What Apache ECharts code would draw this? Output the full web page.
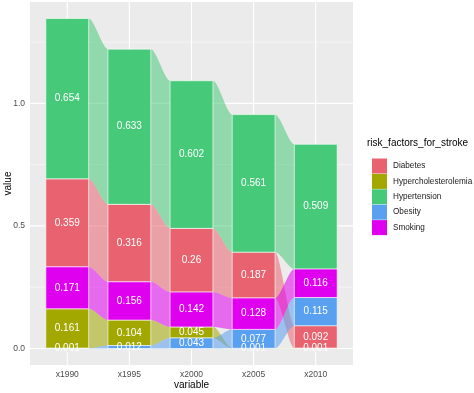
<!DOCTYPE html>
<html>
<head>
<meta charset="utf-8">
<script src="https://cdn.jsdelivr.net/npm/echarts@6/dist/echarts.min.js"></script>
<style>
html,body{margin:0;padding:0;background:#fff;}
#chart{width:474px;height:393px;}
</style>
</head>
<body>
<div id="chart"></div>
<script>
// ---- data ----
const categories = ['x1990', 'x1995', 'x2000', 'x2005', 'x2010'];
const factors = ['Diabetes', 'Hypercholesterolemia', 'Hypertension', 'Obesity', 'Smoking'];
const diabetes = [0.359, 0.316, 0.26, 0.187, 0.092];
const hypercholesterolemia = [0.161, 0.104, 0.045, 0.001, 0.001];
const hypertension = [0.654, 0.633, 0.602, 0.561, 0.509];
const obesity = [0.001, 0.012, 0.043, 0.077, 0.115];
const smoking = [0.171, 0.156, 0.142, 0.128, 0.116];
const valueTicks = [0, 0.5, 1.0];
const valueMinorTicks = [0.25, 0.75, 1.25];
const legendTitle = 'risk_factors_for_stroke';

// ---- styling ----
const colors = ['#E8636F', '#A2A800', '#47C97A', '#5AA0F0', '#E000F0'];
const FONT = '"Liberation Sans", Arial, sans-serif';
const HW = 0.345;

const seriesValues = [diabetes, hypercholesterolemia, hypertension, obesity, smoking];

// stacking: smallest at bottom
const stacks = categories.map((c, i) => {
  const order = factors.map((f, k) => k).sort((a, b) => seriesValues[a][i] - seriesValues[b][i]);
  let acc = 0;
  const pos = {};
  order.forEach(k => { pos[k] = [acc, acc + seriesValues[k][i]]; acc += seriesValues[k][i]; });
  return pos;
});
const totals = stacks.map(p => Math.max(...Object.values(p).map(v => v[1])));
const maxTotal = Math.max(...totals);
const yMin = -0.05 * maxTotal, yMax = maxTotal * 1.05;

function hexToRgba(hex, a) {
  const n = parseInt(hex.slice(1), 16);
  return 'rgba(' + ((n >> 16) & 255) + ',' + ((n >> 8) & 255) + ',' + (n & 255) + ',' + a + ')';
}

const series = [];

// grid lines
const gridData = [];
categories.forEach((c, i) => gridData.push([0, i]));
valueTicks.forEach(v => gridData.push([1, v]));
valueMinorTicks.forEach(v => gridData.push([2, v]));
series.push({
  type: 'custom', name: '_grid', silent: true, z: 1,
  data: gridData,
  encode: { x: -1, y: -1 },
  renderItem: function (params, api) {
    const cs = params.coordSys;
    const kind = api.value(0), v = api.value(1);
    if (kind === 0) {
      const x = api.coord([v, 0])[0];
      return { type: 'line', shape: { x1: x, y1: cs.y, x2: x, y2: cs.y + cs.height }, style: { stroke: '#fff', lineWidth: 1.1 } };
    }
    const y = api.coord([0, v])[1];
    return { type: 'line', shape: { x1: cs.x, y1: y, x2: cs.x + cs.width, y2: y }, style: { stroke: '#fff', lineWidth: kind === 1 ? 1.1 : 0.5 } };
  }
});

// flows
factors.forEach((f, k) => {
  const data = [];
  for (let j = 0; j < categories.length - 1; j++) {
    data.push([j, stacks[j][k][0], stacks[j][k][1], stacks[j + 1][k][0], stacks[j + 1][k][1]]);
  }
  series.push({
    type: 'custom', name: f + ' flow', z: 2, silent: true,
    data: data,
    encode: { x: 0, y: [1, 2, 3, 4] },
    renderItem: function (params, api) {
      const j = api.value(0);
      const y0a = api.value(1), y1a = api.value(2), y0b = api.value(3), y1b = api.value(4);
      const xa = j + HW, xb = j + 1 - HW;
      const a = 0.28;
      const N = 24;
      const pts = [];
      function bez(ya, yb, t) {
        const cx1 = xa + a * (xb - xa), cx2 = xb - a * (xb - xa);
        const u = 1 - t;
        const x = u * u * u * xa + 3 * u * u * t * cx1 + 3 * u * t * t * cx2 + t * t * t * xb;
        const y = u * u * u * ya + 3 * u * u * t * ya + 3 * u * t * t * yb + t * t * t * yb;
        return api.coord([x, y]);
      }
      for (let s = 0; s <= N; s++) pts.push(bez(y1a, y1b, s / N));
      for (let s = N; s >= 0; s--) pts.push(bez(y0a, y0b, s / N));
      return { type: 'polygon', shape: { points: pts }, style: { fill: hexToRgba(colors[k], 0.55), stroke: null } };
    }
  });
});

// strata (bars) with labels
factors.forEach((f, k) => {
  series.push({
    type: 'custom', name: f, z: 3,
    itemStyle: { color: colors[k] },
    data: categories.map((c, i) => [i, stacks[i][k][0], stacks[i][k][1], seriesValues[k][i]]),
    encode: { x: 0, y: [1, 2] },
    renderItem: function (params, api) {
      const i = api.value(0);
      const p0 = api.coord([i - HW, api.value(2)]);
      const p1 = api.coord([i + HW, api.value(1)]);
      const pc = api.coord([i, (api.value(1) + api.value(2)) / 2]);
      return {
        type: 'group',
        children: [
          { type: 'rect', shape: { x: p0[0], y: p0[1], width: p1[0] - p0[0], height: p1[1] - p0[1] },
            style: { fill: colors[k], stroke: 'rgba(255,255,255,0.75)', lineWidth: 0.8 } },
          { type: 'text', z2: 10, style: { x: pc[0], y: pc[1], text: String(api.value(3)), fill: '#fff',
            font: '10px ' + FONT, align: 'center', verticalAlign: 'middle' } }
        ]
      };
    }
  });
});

const chart = echarts.init(document.getElementById('chart'), null, { renderer: 'canvas' });
chart.setOption({
  animation: false,
  backgroundColor: '#fff',
  grid: { left: 30, right: 121, top: 2, bottom: 28, show: true, backgroundColor: '#EBEBEB', borderWidth: 0,
    outerBoundsMode: 'none', containLabel: false },
  xAxis: {
    type: 'value', min: -0.6, max: categories.length - 1 + 0.6,
    name: 'variable', nameLocation: 'middle', nameGap: 15, nameMoveOverlap: false,
    nameTextStyle: { color: '#000', fontSize: 10, fontFamily: FONT },
    axisLine: { show: false },
    splitLine: { show: false },
    axisTick: { show: true, length: 3, customValues: categories.map((c, i) => i), lineStyle: { color: '#333', width: 1 } },
    axisLabel: { customValues: categories.map((c, i) => i), formatter: v => categories[Math.round(v)] || '',
      color: '#4D4D4D', fontSize: 8.5, fontFamily: FONT, margin: 5 }
  },
  yAxis: {
    type: 'value', min: yMin, max: yMax,
    name: 'value', nameLocation: 'middle', nameGap: 17, nameRotate: 90, nameMoveOverlap: false,
    nameTextStyle: { color: '#000', fontSize: 10, fontFamily: FONT },
    axisLine: { show: false },
    splitLine: { show: false },
    axisTick: { show: true, length: 3, customValues: valueTicks, lineStyle: { color: '#333', width: 1 } },
    axisLabel: { customValues: valueTicks, formatter: v => v.toFixed(1),
      color: '#4D4D4D', fontSize: 8.5, fontFamily: FONT, margin: 5 }
  },
  legend: {
    orient: 'vertical', left: 367, top: 153.5,
    icon: 'rect', itemWidth: 15, itemHeight: 15, itemGap: 0.4,
    data: factors.map((f, k) => ({ name: f, itemStyle: { color: colors[k] } })),
    textStyle: { color: '#1A1A1A', fontSize: 8.2, fontFamily: FONT, padding: [0, 0, 0, 1] },
    selectedMode: false
  },
  graphic: [
    { type: 'text', left: 367, top: 138, style: { text: legendTitle, fill: '#000', font: '10px ' + FONT } }
  ],
  series: series
});
</script>
</body>
</html>
